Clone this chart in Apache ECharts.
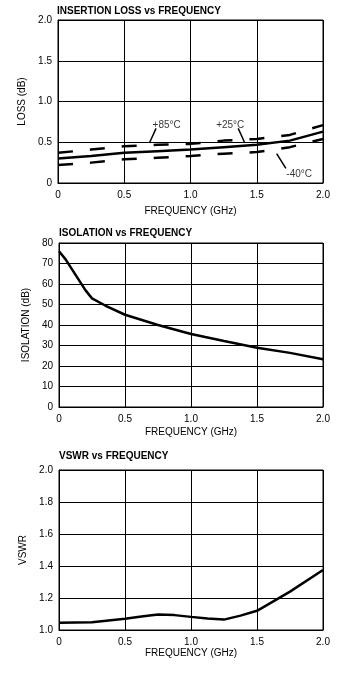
<!DOCTYPE html>
<html><head><meta charset="utf-8">
<script src="https://cdn.jsdelivr.net/npm/echarts@6/dist/echarts.min.js"></script>
<style>html,body{margin:0;padding:0;background:#fff}#c{width:364px;height:675px}</style>
</head><body><div id="c"></div>
<script>
// Chart 1: insertion loss
const freqLoss = [0, 0.25, 0.5, 0.75, 1.0, 1.25, 1.5, 1.75, 2.0];
const loss85 = [0.37, 0.41, 0.45, 0.47, 0.48, 0.52, 0.54, 0.59, 0.71];
const loss25 = [0.30, 0.33, 0.37, 0.39, 0.41, 0.44, 0.47, 0.52, 0.63];
const lossM40 = [0.22, 0.25, 0.29, 0.31, 0.33, 0.36, 0.38, 0.44, 0.54];
const lossTicks = ['0', '0.5', '1.0', '1.5', '2.0'];
const annoText = ['+85°C', '+25°C', '-40°C'];
const annoTextPos = [[0.82, 0.71], [1.30, 0.71], [1.82, 0.11]];
const annoLeaders = [[[0.74, 0.67], [0.69, 0.49]], [[1.36, 0.67], [1.41, 0.49]], [[1.72, 0.18], [1.65, 0.36]]];
// Chart 2: isolation
const freqIso = [0, 0.05, 0.1, 0.15, 0.2, 0.25, 0.35, 0.5, 0.75, 1.0, 1.25, 1.5, 1.75, 2.0];
const isolation = [76, 72, 67, 62, 57, 53, 49.5, 45, 40, 35.6, 32.2, 28.9, 26.4, 23.3];
// Chart 3: VSWR
const freqVswr = [0, 0.25, 0.375, 0.5, 0.625, 0.75, 0.875, 1.0, 1.125, 1.25, 1.375, 1.5, 1.75, 2.0];
const vswr = [1.045, 1.048, 1.06, 1.07, 1.085, 1.097, 1.093, 1.082, 1.072, 1.065, 1.09, 1.12, 1.24, 1.375];
const freqTicks = ['0', '0.5', '1.0', '1.5', '2.0'];

const FONT = 'Liberation Sans';
const txt = {color: '#000', fontFamily: FONT, fontSize: 10};
function xAx(gi, gap) {
  return {gridIndex: gi, type: 'value', min: 0, max: 2, interval: 0.5,
    name: 'FREQUENCY (GHz)', nameLocation: 'middle', nameGap: gap,
    nameTextStyle: Object.assign({}, txt),
    axisLine: {lineStyle: {color: '#000', width: 1}}, axisTick: {show: false},
    axisLabel: Object.assign({margin: 7, formatter: v => freqTicks[Math.round(v / 0.5)]}, txt),
    splitLine: {show: true, lineStyle: {color: '#000', width: 1}}};
}
function yAx(gi, min, max, interval, name, gap, fmt) {
  return {gridIndex: gi, type: 'value', min, max, interval, name, nameLocation: 'middle', nameGap: gap,
    nameTextStyle: Object.assign({}, txt),
    axisLine: {lineStyle: {color: '#000', width: 1}}, axisTick: {show: false},
    axisLabel: Object.assign({margin: 6, formatter: fmt}, txt),
    splitLine: {show: true, lineStyle: {color: '#000', width: 1}}};
}
const zip = (xs, ys) => xs.map((x, i) => [x, ys[i]]);
const lineS = (gi, data, dashed) => ({type: 'line', xAxisIndex: gi, yAxisIndex: gi, data, symbol: 'none',
  lineStyle: {color: '#000', width: 2.5, type: dashed ? [15, 17] : 'solid'}, silent: true});

const series = [
  lineS(0, zip(freqLoss, loss85), true),
  lineS(0, zip(freqLoss, loss25), false),
  lineS(0, zip(freqLoss, lossM40), true),
  ...annoLeaders.map(l => ({type: 'line', xAxisIndex: 0, yAxisIndex: 0, data: l, symbol: 'none',
    lineStyle: {color: '#000', width: 1.5}, silent: true})),
  {type: 'scatter', xAxisIndex: 0, yAxisIndex: 0, symbolSize: 0, silent: true,
    data: annoTextPos.map((p, i) => ({value: p, label: {show: true, position: 'inside', formatter: annoText[i],
      color: '#000', fontFamily: FONT, fontSize: 10}}))},
  lineS(1, zip(freqIso, isolation), false),
  lineS(2, zip(freqVswr, vswr), false)
];

const titleStyle = {color: '#000', fontFamily: FONT, fontSize: 10, fontWeight: 'bold'};
const option = {
  animation: false,
  backgroundColor: '#fff',
  title: [
    {text: 'INSERTION LOSS vs FREQUENCY', left: 57, top: 6, textStyle: titleStyle, padding: 0},
    {text: 'ISOLATION vs FREQUENCY', left: 59, top: 228, textStyle: titleStyle, padding: 0},
    {text: 'VSWR vs FREQUENCY', left: 59, top: 451, textStyle: titleStyle, padding: 0}
  ],
  grid: [
    {left: 58, top: 20, width: 265, height: 163, show: true, borderColor: '#000', borderWidth: 1},
    {left: 59, top: 243, width: 264, height: 164, show: true, borderColor: '#000', borderWidth: 1},
    {left: 59, top: 470, width: 264, height: 160, show: true, borderColor: '#000', borderWidth: 1}
  ],
  xAxis: [xAx(0, 23), xAx(1, 20), xAx(2, 18)],
  yAxis: [
    yAx(0, 0, 2, 0.5, 'LOSS (dB)', 22, v => lossTicks[Math.round(v / 0.5)]),
    yAx(1, 0, 80, 10, 'ISOLATION (dB)', 17, v => String(v)),
    yAx(2, 1, 2, 0.2, 'VSWR', 20, v => v.toFixed(1))
  ],
  series
};
echarts.init(document.getElementById('c')).setOption(option);
</script></body></html>
